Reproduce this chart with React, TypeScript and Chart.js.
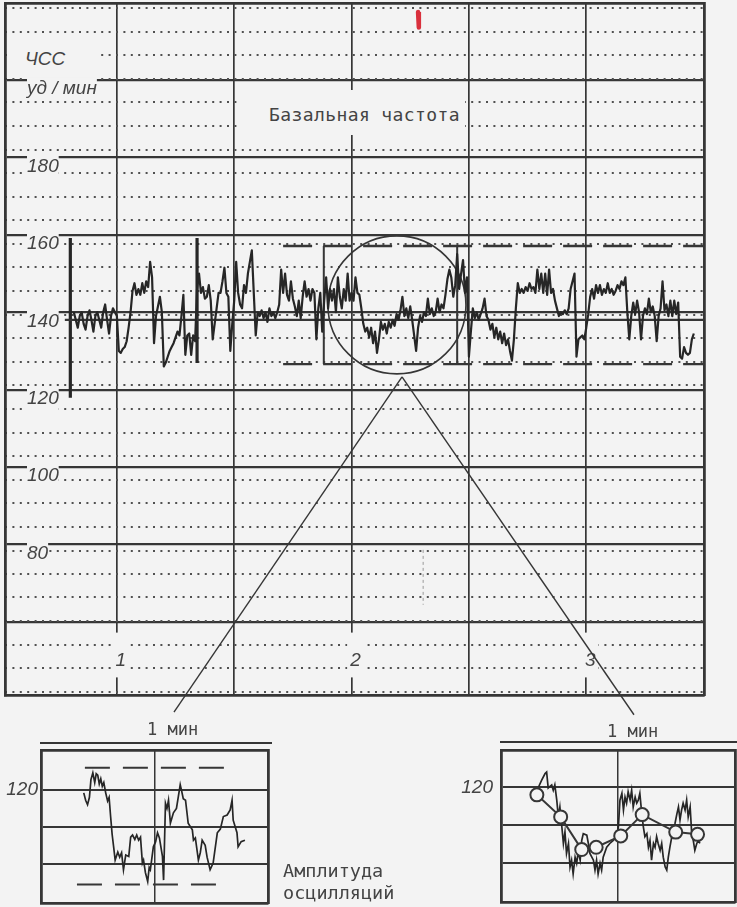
import React, { useEffect, useRef } from 'react';
import { Chart, registerables } from 'chart.js';

Chart.register(...registerables);

const BG = '#f3f3f3';
const INK = '#363636';
const DOT = '#505050';
const TRACE = '#262626';
const LABEL = '#444444';
const SANS = "'Liberation Sans', Arial, sans-serif";
const MONO = "'DejaVu Sans Mono', monospace";

// ---------- main CTG chart ----------
const mainSecRange = [31.4, 210.1];
const mainBpmRange = [41.1, 219.9];
const majorBpmTicks = [60, 80, 100, 120, 140, 160, 180, 200];
const dottedRowsBpm = [218.6, 212.5, 206.4, 200.3, 194.2, 188.1, 182.0, 175.9, 169.8, 163.8, 157.7, 151.6, 145.5, 139.4, 133.3, 127.2, 121.1, 115.0, 108.9, 102.8, 96.7, 90.6, 84.5, 78.4, 72.3, 66.3, 60.2, 54.1, 48.0, 41.9];
const halfMinuteGridSec = [60, 90, 120, 150, 180];
const unitLabel = 'уд / мин';

const traceStartSec = 49;
const traceStepSec = 0.5;
const traceBpm = [
  140, 138, 136, 139, 140, 137, 135.5, 139, 140.5, 138,
  135, 139, 140, 138, 136, 140, 142, 138, 134.5, 139,
  141, 140, 139, 130, 129.5, 130.5, 131, 132.5, 136, 140,
  145.5, 147.5, 144.5, 146, 144.5, 147.5, 145, 148, 146.5, 153,
  149, 132, 139, 141.5, 144, 140, 126, 127, 128.5, 130,
  131, 132, 133.5, 135, 134, 139, 144.5, 129, 134, 134.5,
  129, 134, 132.5, 146, 150, 145, 146.5, 143.5, 144, 147,
  143, 133, 137, 141, 145, 145, 148, 151.5, 145, 144,
  130, 137, 143, 153, 145, 142, 141, 147, 145, 150,
  153, 156, 145, 134, 140, 139, 140.5, 138.5, 140, 137.5,
  141, 139, 140, 138.5, 140, 142, 151, 145, 150, 144.5,
  143, 148, 143.5, 141.5, 139, 143, 138.5, 144, 148, 144,
  146, 143, 146, 145, 133, 141, 145, 135, 143, 149,
  141, 146, 143, 146, 140, 149, 144, 141, 146, 143,
  150, 143, 145, 143, 149, 145, 144.5, 141, 137, 135,
  136, 133.5, 136, 132, 135, 129.5, 133, 137.5, 135.5, 137,
  134.5, 137.5, 136, 138, 136.5, 139.5, 138, 140.5, 144, 139,
  141, 138.5, 141.5, 138, 134, 130, 136, 139, 137.5, 140,
  139, 143.5, 139.5, 141, 139, 140, 143.5, 140, 142, 141,
  144.5, 148.5, 151, 149, 144, 147, 155, 146, 150, 153.5,
  145, 149, 128.5, 135, 141, 138.5, 140, 138, 139.5, 141,
  143.5, 139, 138, 135.5, 137, 133.5, 136, 133, 135, 132,
  134.5, 131.5, 133, 130, 127.5, 133, 141, 147.5, 145, 146,
  145, 146.5, 145.5, 147.5, 146, 146.5, 145, 151, 146, 150,
  145, 150, 144.5, 151, 145, 146, 143, 141, 139, 140,
  139.5, 140.5, 139.5, 141, 146, 148, 150, 128.5, 133, 133.5,
  134, 133, 136, 139.5, 144, 146, 143.5, 147, 145, 147,
  144.5, 146, 145, 147.5, 145, 146, 144.5, 145.5, 147, 146,
  148, 147, 149, 140, 133, 139, 142.5, 139.5, 143, 140,
  133, 139, 141, 139.5, 143.5, 140, 141.5, 139, 132.5, 139,
  141, 148, 140.5, 142, 139, 143, 139, 143, 139.5, 142.5,
  128.5, 128, 131, 129.5, 129, 129.5, 133, 134.5,
];

const markerBarSec = [48.1, 80.5];
const markerBarTopBpm = [159.2, 159.2];
const markerBarBottomBpm = [117.9, 126.9];

const baselineSecRange = [46.7, 210.1];
const baselineBpm = 138;

const amplitudeSecRange = [102.5, 210.1];
const amplitudeUpperBpm = 157.1;
const amplitudeLowerBpm = 126.6;
const windowEdgeSec = [112.9, 147];

const magnifierSec = 131.6;
const magnifierBpm = 141.9;
const zoomFromSec = 132.9;
const zoomFromBpm = 123.3;
const zoomToSec = [74.6, 192.2];
const zoomToBpm = [36.7, 36.0];

const redMarkSec = [137.0, 137.2];
const redMarkBpm = [217.6, 213.6];
const faintMarkSec = 138.3;
const faintMarkBpm = [78.6, 64.4];

// ---------- left inset ----------
const leftInsetBpmRange = [104.7, 125.4];
const insetGridBpm = [110, 115, 120];
const leftInsetSec = [11.3, 11.8, 12.3, 12.8, 13.2, 13.7, 14.2, 14.6, 15, 15.4, 15.8, 16.2, 16.6, 17.1, 17.6, 18, 18.4, 18.8, 19.2, 19.6, 20.3, 20.8, 21.3, 21.8, 22.4, 23.2, 23.7, 24.2, 24.8, 25.3, 25.8, 26.3, 26.8, 27.1, 27.6, 28.2, 28.6, 28.9, 29.7, 30.3, 30.8, 31.3, 32.1, 32.4, 32.9, 33.3, 33.7, 34.2, 35, 35.8, 36.3, 36.8, 37.2, 37.6, 38.2, 38.7, 38.9, 40, 40.3, 40.8, 41.6, 42.1, 42.6, 43.4, 43.9, 44.7, 45.5, 46.6, 47.4, 48.2, 49.2, 50, 50.5, 50.8, 51.8, 52.1, 52.9, 53.9];
const leftInsetBpm = [119.6, 118.6, 118, 119, 121.4, 122.3, 121, 122.2, 122, 120.8, 121.5, 120.5, 121, 119.6, 118.5, 119, 116.4, 114, 112.3, 110.5, 111.6, 110.9, 111.5, 109.2, 111.2, 111, 113.6, 113.9, 113.3, 113.9, 113.2, 113.6, 110.1, 110.5, 108.8, 107.6, 109.5, 109.2, 112.3, 113, 114.2, 113.5, 111, 107.8, 118.2, 117.5, 118.6, 115.5, 116.9, 117.5, 119.1, 120.7, 119.8, 118.8, 118.6, 116.4, 115.5, 114.6, 113.2, 113.5, 110.5, 111.5, 113.2, 112.5, 110.9, 109.2, 110.1, 114.2, 114.7, 116.4, 116.6, 117.3, 118.6, 115.9, 114.2, 112.3, 113, 113.2];
const leftAmpUpperSec = [11.6, 49.5];
const leftAmpUpperBpm = 123;
const leftAmpLowerSec = [9.5, 48.4];
const leftAmpLowerBpm = 107.2;

// ---------- right inset ----------
const rightInsetBpmRange = [104.9, 124.9];
const rightInsetSec = [9.6, 10.4, 11.3, 11.7, 12.1, 13, 13.4, 13.8, 14.3, 14.7, 15.1, 15.6, 16, 16.4, 16.8, 17.3, 17.7, 18.1, 18.5, 19, 19.4, 19.8, 20.3, 20.7, 21.1, 22, 22.4, 22.8, 23.7, 24.1, 24.5, 24.9, 25.4, 25.8, 26.2, 27.1, 27.9, 28.8, 29.7, 30.1, 30.5, 31, 31.4, 31.8, 32.2, 32.6, 33.1, 33.5, 33.9, 34.4, 34.8, 35.2, 35.6, 36.1, 36.5, 36.9, 37.4, 37.8, 38.2, 38.6, 39.1, 39.5, 39.9, 40.3, 40.8, 41.2, 41.6, 42.1, 42.5, 42.9, 43.3, 43.8, 44.2, 44.6, 45.1, 45.5, 45.9, 46.3, 46.7, 47.2, 47.6, 48, 48.5, 48.9, 49.3, 49.7, 50.2, 50.6, 51];
const rightInsetBpm = [120, 120.9, 121.8, 122, 119.9, 120.3, 119.6, 120.3, 118.3, 116.1, 117.4, 114.8, 112.6, 114.1, 111.3, 112.6, 109.5, 110.4, 108.6, 110.8, 110, 111.5, 110.4, 113, 113.9, 113.7, 112.6, 111.3, 110.4, 109.1, 110.4, 108.6, 110, 109.1, 110.8, 112.1, 112.6, 113, 113.5, 114.8, 118.3, 119.2, 117, 118.7, 117.9, 119.4, 118.3, 119.6, 117.4, 118.7, 117.9, 118.3, 119.2, 116.5, 114.8, 113.5, 113.9, 112.1, 113, 110.4, 112.6, 112.1, 113.5, 112.6, 111.7, 112.6, 110.8, 109.5, 109.1, 110.8, 112.1, 113.5, 114.3, 115.2, 116.5, 117.4, 115.7, 117, 117.9, 117, 118.3, 116.1, 117.4, 113.9, 113, 111.7, 112.6, 113, 112.6];
const rightMeanSec = [9.2, 15.3, 20.7, 24.4, 30.7, 36.2, 44.8, 50.4];
const rightMeanBpm = [119, 116.1, 111.8, 112.1, 113.6, 116.4, 114.1, 113.8];

// ---------- helpers ----------
const pts = (xs: number[], ys: number[]) => xs.map((x, i) => ({ x, y: ys[i] }));
const seg = (x0: number, y0: number, x1: number, y1: number) => [{ x: x0, y: y0 }, { x: x1, y: y1 }];

const fixSize = (size: number) => (scale: any) => {
  if (scale.isHorizontal()) scale.height = size;
  else scale.width = size;
  scale.paddingTop = 0;
  scale.paddingBottom = 0;
  scale.paddingLeft = 0;
  scale.paddingRight = 0;
};

const setTicks = (values: number[]) => (scale: any) => {
  scale.ticks = values.map((value) => ({ value }));
};

const lineDs = (data: any[], extra: any = {}) => ({
  data,
  borderColor: INK,
  borderWidth: 2,
  pointRadius: 0,
  tension: 0,
  fill: false,
  ...extra,
});

const italicFont = { family: SANS, style: 'italic' as const, size: 19 };

const borderOnly = (position: string) => ({
  type: 'linear' as const,
  position,
  afterFit: fixSize(0),
  grid: { display: false, drawTicks: false },
  ticks: { display: false },
  border: { display: true, color: INK, width: 2.8 },
});

const minuteBarPlugin = {
  id: 'minuteBar',
  afterDraw(chart: any, _args: any, opts: any) {
    const { ctx, chartArea, scales } = chart;
    const x0 = scales.x.getPixelForValue(0) - 1;
    const x1 = scales.x.getPixelForValue(60) + opts.extend;
    const y = chartArea.top - opts.gap;
    ctx.save();
    ctx.strokeStyle = INK;
    ctx.lineWidth = 2;
    ctx.beginPath();
    ctx.moveTo(x0, y);
    ctx.lineTo(x1, y);
    ctx.stroke();
    ctx.restore();
  },
};

function makeMain(canvas: HTMLCanvasElement) {
  const trace = traceBpm.map((v, i) => ({ x: traceStartSec + i * traceStepSec, y: v }));
  const datasets: any[] = [
    lineDs(trace, { borderColor: TRACE, borderWidth: 2.2, borderJoinStyle: 'round' }),
    lineDs(seg(baselineSecRange[0], baselineBpm, baselineSecRange[1], baselineBpm), { borderWidth: 2.2 }),
    ...markerBarSec.map((s, i) =>
      lineDs(seg(s, markerBarTopBpm[i], s, markerBarBottomBpm[i]), { borderColor: TRACE, borderWidth: 3.2 })
    ),
    lineDs(seg(amplitudeSecRange[0], amplitudeUpperBpm, amplitudeSecRange[1], amplitudeUpperBpm), {
      borderWidth: 2.4,
      borderDash: [29, 11],
    }),
    lineDs(seg(amplitudeSecRange[0], amplitudeLowerBpm, amplitudeSecRange[1], amplitudeLowerBpm), {
      borderWidth: 2.4,
      borderDash: [29, 11],
    }),
    ...windowEdgeSec.map((s) => lineDs(seg(s, amplitudeUpperBpm, s, amplitudeLowerBpm), { borderWidth: 2 })),
    {
      data: [{ x: magnifierSec, y: magnifierBpm }],
      showLine: false,
      pointRadius: 69,
      pointHoverRadius: 69,
      pointBorderWidth: 1.6,
      pointBorderColor: INK,
      pointBackgroundColor: 'rgba(0,0,0,0)',
    },
    ...zoomToSec.map((s, i) =>
      lineDs(seg(zoomFromSec, zoomFromBpm, s, zoomToBpm[i]), { borderWidth: 1.4, clip: false })
    ),
    lineDs(pts(redMarkSec, redMarkBpm), { borderColor: '#d9303c', borderWidth: 4.5, borderCapStyle: 'round' }),
    lineDs(seg(faintMarkSec, faintMarkBpm[0], faintMarkSec, faintMarkBpm[1]), {
      borderColor: '#9a9a9a',
      borderWidth: 1,
      borderDash: [3, 3],
    }),
  ];

  return new Chart(canvas, {
    type: 'line',
    data: { datasets },
    options: {
      animation: false,
      responsive: false,
      events: [],
      layout: { autoPadding: false, padding: { left: 5, top: 3, right: 33, bottom: 212 } },
      plugins: { legend: { display: false }, tooltip: { enabled: false } },
      scales: {
        x: {
          type: 'linear',
          position: 'bottom',
          min: mainSecRange[0],
          max: mainSecRange[1],
          afterBuildTicks: setTicks(halfMinuteGridSec),
          afterFit: fixSize(0),
          grid: { color: INK, lineWidth: 1.7, drawTicks: false },
          border: { display: true, color: INK, width: 2.8 },
          ticks: {
            autoSkip: false,
            maxRotation: 0,
            mirror: true,
            padding: 22.6,
            labelOffset: 4,
            color: LABEL,
            font: italicFont,
            callback: (v: any) => (Number(v) % 60 === 0 ? String(Number(v) / 60) : ''),
            showLabelBackdrop: (c: any) => c.tick && c.tick.value % 60 === 0,
            backdropColor: BG,
            backdropPadding: { top: 17, bottom: 5, left: 3, right: 3 },
          },
        },
        xTop: { ...borderOnly('top'), min: mainSecRange[0], max: mainSecRange[1] },
        y: {
          type: 'linear',
          position: 'left',
          min: mainBpmRange[0],
          max: mainBpmRange[1],
          afterBuildTicks: setTicks(majorBpmTicks),
          afterFit: fixSize(0),
          grid: { color: INK, lineWidth: 2.2, drawTicks: false },
          border: { display: true, color: INK, width: 2.8 },
          ticks: {
            autoSkip: false,
            mirror: true,
            padding: 22,
            labelOffset: 9,
            color: LABEL,
            font: italicFont,
            callback: (v: any) => (Number(v) === 200 ? unitLabel : Number(v) === 60 ? '' : String(v)),
            showLabelBackdrop: (c: any) => c.tick && c.tick.value !== 60,
            backdropColor: BG,
            backdropPadding: (c: any) =>
              c.tick && c.tick.value === 200
                ? { top: 4, bottom: 10, left: 8, right: 2 }
                : { top: 4, bottom: 1, left: 6, right: 2 },
          },
        },
        yMinor: {
          type: 'linear',
          position: 'right',
          min: mainBpmRange[0],
          max: mainBpmRange[1],
          afterBuildTicks: setTicks(dottedRowsBpm),
          afterFit: fixSize(0),
          grid: { color: DOT, lineWidth: 2, drawTicks: false },
          border: { display: true, color: INK, width: 2.8, dash: [2, 5.4] },
          ticks: { display: false },
        },
      },
    } as any,
  });
}

function makeInset(
  canvas: HTMLCanvasElement,
  bpmRange: number[],
  axisWidth: number,
  labelPad: number,
  padding: any,
  bar: any,
  datasets: any[]
) {
  return new Chart(canvas, {
    type: 'line',
    data: { datasets },
    plugins: [minuteBarPlugin],
    options: {
      animation: false,
      responsive: false,
      events: [],
      layout: { autoPadding: false, padding },
      plugins: { legend: { display: false }, tooltip: { enabled: false }, minuteBar: bar },
      scales: {
        x: {
          type: 'linear',
          position: 'bottom',
          min: 0,
          max: 60,
          afterBuildTicks: setTicks([30]),
          afterFit: fixSize(0),
          grid: { color: INK, lineWidth: 1.5, drawTicks: false },
          border: { display: true, color: INK, width: 2.8 },
          ticks: { display: false },
        },
        xTop: { ...borderOnly('top'), min: 0, max: 60 },
        y: {
          type: 'linear',
          position: 'left',
          min: bpmRange[0],
          max: bpmRange[1],
          afterBuildTicks: setTicks(insetGridBpm),
          afterFit: fixSize(axisWidth),
          grid: { color: INK, lineWidth: 2, drawTicks: false },
          border: { display: true, color: INK, width: 2.8 },
          ticks: {
            autoSkip: false,
            padding: labelPad,
            color: LABEL,
            font: italicFont,
            callback: (v: any) => (Number(v) === 120 ? '120' : ''),
          },
        },
        yRight: { ...borderOnly('right'), min: bpmRange[0], max: bpmRange[1] },
      },
    } as any,
  });
}

function makeLeft(canvas: HTMLCanvasElement) {
  return makeInset(
    canvas,
    leftInsetBpmRange,
    41,
    3,
    { left: 0, top: 10, right: 32, bottom: 4 },
    { gap: 7, extend: 4 },
    [
      lineDs(pts(leftInsetSec, leftInsetBpm), { borderColor: TRACE, borderWidth: 1.7 }),
      lineDs(seg(leftAmpUpperSec[0], leftAmpUpperBpm, leftAmpUpperSec[1], leftAmpUpperBpm), {
        borderDash: [25, 13],
      }),
      lineDs(seg(leftAmpLowerSec[0], leftAmpLowerBpm, leftAmpLowerSec[1], leftAmpLowerBpm), {
        borderDash: [25, 13],
      }),
    ]
  );
}

function makeRight(canvas: HTMLCanvasElement) {
  return makeInset(
    canvas,
    rightInsetBpmRange,
    61,
    8,
    { left: 0, top: 10, right: 2, bottom: 5 },
    { gap: 8, extend: 2 },
    [
      lineDs(pts(rightMeanSec, rightMeanBpm), {
        borderColor: INK,
        borderWidth: 2,
        pointRadius: 6.5,
        pointHoverRadius: 6.5,
        pointBorderWidth: 2,
        pointBorderColor: INK,
        pointBackgroundColor: BG,
      }),
      lineDs(pts(rightInsetSec, rightInsetBpm), { borderColor: TRACE, borderWidth: 1.7 }),
    ]
  );
}

const abs = (s: React.CSSProperties): React.CSSProperties => ({
  position: 'absolute',
  whiteSpace: 'pre',
  color: LABEL,
  margin: 0,
  boxSizing: 'border-box',
  ...s,
});

export default function App() {
  const mainRef = useRef<HTMLCanvasElement>(null);
  const leftRef = useRef<HTMLCanvasElement>(null);
  const rightRef = useRef<HTMLCanvasElement>(null);

  useEffect(() => {
    const charts = [
      makeMain(mainRef.current as HTMLCanvasElement),
      makeLeft(leftRef.current as HTMLCanvasElement),
      makeRight(rightRef.current as HTMLCanvasElement),
    ];
    return () => charts.forEach((c) => c.destroy());
  }, []);

  return (
    <div
      style={{
        position: 'absolute',
        left: 0,
        top: 0,
        width: 737,
        height: 907,
        background: BG,
        overflow: 'hidden',
      }}
    >
      <canvas ref={mainRef} width={737} height={907} style={{ position: 'absolute', left: 0, top: 0 }} />
      <canvas ref={leftRef} width={300} height={167} style={{ position: 'absolute', left: 0, top: 740 }} />
      <canvas ref={rightRef} width={297} height={167} style={{ position: 'absolute', left: 440, top: 740 }} />

      <div
        style={abs({
          left: 7,
          top: 44,
          width: 91,
          height: 26,
          paddingLeft: 18,
          paddingTop: 5,
          background: BG,
          font: `italic 19px ${SANS}`,
          lineHeight: '19px',
        })}
      >
        ЧСС
      </div>

      <div
        style={abs({
          left: 238,
          top: 90,
          width: 227,
          height: 45,
          paddingLeft: 31,
          paddingTop: 16,
          background: BG,
          font: `18px ${MONO}`,
          lineHeight: '18px',
          letterSpacing: '0.4px',
        })}
      >
        Базальная частота
      </div>

      <div style={abs({ left: 147, top: 721, font: `17px ${MONO}`, lineHeight: '17px' })}>1 мин</div>
      <div style={abs({ left: 607, top: 723, font: `17px ${MONO}`, lineHeight: '17px' })}>1 мин</div>

      <div style={abs({ left: 283, top: 860, font: `18.5px ${MONO}`, lineHeight: '22px' })}>
        {'Амплитуда\nосцилляций'}
      </div>
    </div>
  );
}
